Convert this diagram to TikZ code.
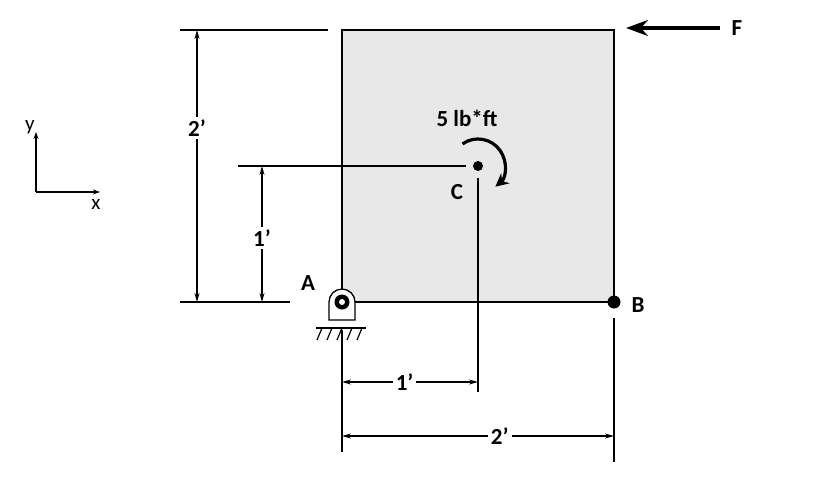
\documentclass[tikz,border=0pt]{standalone}
\usepackage{fontspec}
\setmainfont{Carlito}
\usetikzlibrary{arrows.meta}
\begin{document}
\begin{tikzpicture}[x=1pt,y=-1pt,
  dim/.style={line width=1.1pt,{Stealth[length=9pt,width=5pt]}-{Stealth[length=9pt,width=5pt]}},
  ext/.style={line width=1.1pt},
  lbl/.style={font=\bfseries\fontsize{23}{26}\selectfont,inner sep=1pt},
  gap/.style={lbl,fill=white,inner sep=3pt}]
\useasboundingbox (0,0) rectangle (836,480);
\draw[line width=2.8pt,fill={rgb,255:red,232;green,232;blue,232}] (342,30) rectangle (614,302);
% extension lines
\draw[ext] (180,30) -- (328,30);
\draw[ext] (180,302) -- (290,302);
\draw[ext] (238,166) -- (466,166);
\draw[ext] (478,178) -- (478,392);
\draw[ext] (342,330) -- (342,452);
\draw[ext] (614,318) -- (614,462);
% dims
\coordinate (d2a) at (197,30); \coordinate (d2b) at (197,302);
\draw[dim] (d2a) -- (d2b) node[gap,pos=0.36] {2’};
\coordinate (d1a) at (262,166); \coordinate (d1b) at (262,302);
\draw[dim] (d1a) -- (d1b) node[gap,pos=0.53] {1’};
\coordinate (h1a) at (342,382); \coordinate (h1b) at (478,382);
\draw[dim] (h1a) -- (h1b) node[gap,pos=0.46] {1’};
\coordinate (h2a) at (342,436); \coordinate (h2b) at (614,436);
\draw[dim] (h2a) -- (h2b) node[gap,pos=0.58] {2’};
% C
\node[circle,fill,inner sep=0pt,minimum size=10pt] (C) at (478,166) {};
\draw[line width=3.2pt,-{Stealth[length=13pt,width=13pt]}] ([shift={(-125:27)}]C.center) arc[start angle=-125,end angle=50,radius=27];
\node[lbl] at (467,118) {5 lb*ft};
\node[lbl] at (457,192) {C};
% B
\node[circle,fill,inner sep=0pt,minimum size=13pt] (B) at (614,302) {};
\node[lbl] at (638,305) {B};
% A support
\node[lbl] at (308,283) {A};
\draw[line width=1.3pt,fill=white] (329,320) -- (329,302) arc[start angle=180,end angle=360,radius=13] -- (355,320) -- cycle;
\draw[line width=1.3pt] (316,328) -- (366,328);
\foreach \i in {0,1,2,3,4} \draw[line width=1.2pt] (322+10*\i,328) -- (317+10*\i,340);
\node[circle,fill,inner sep=0pt,minimum size=15pt] (A) at (342,302) {};
\node[circle,fill=white,inner sep=0pt,minimum size=6pt] at (A) {};
% F
\coordinate (Ft) at (720,28);
\draw[line width=3.2pt,-{Stealth[length=22pt,width=16pt]}] (Ft) -- (626,28);
\node[lbl] at (737,28) {F};
% axes
\coordinate (O) at (36,192);
\draw[line width=1.1pt,-{Stealth[length=7pt,width=5pt]}] (O) -- (36,132);
\draw[line width=1.1pt,-{Stealth[length=7pt,width=5pt]}] (O) -- (100,192);
\node[font=\fontsize{21}{24}\selectfont] at (30,127) {y};
\node[font=\fontsize{21}{24}\selectfont] at (96,204) {x};
\end{tikzpicture}
\end{document}
